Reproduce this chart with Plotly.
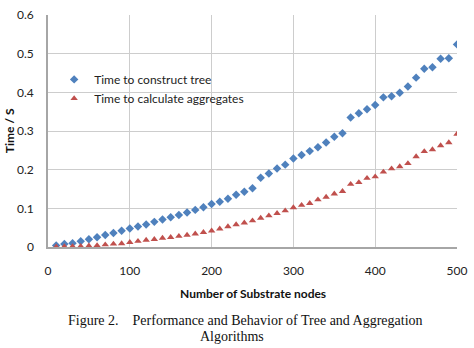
import plotly.graph_objects as go

nodes = list(range(10, 510, 10))
tree_time = [0.004, 0.008, 0.010, 0.015, 0.020, 0.025, 0.031, 0.036, 0.042, 0.048,
             0.053, 0.058, 0.065, 0.071, 0.077, 0.083, 0.089, 0.096, 0.103, 0.111,
             0.117, 0.125, 0.135, 0.143, 0.152, 0.179, 0.190, 0.203, 0.213, 0.229,
             0.238, 0.248, 0.258, 0.270, 0.285, 0.294, 0.335, 0.346, 0.356, 0.367,
             0.387, 0.390, 0.399, 0.415, 0.438, 0.461, 0.465, 0.487, 0.488, 0.524]
agg_time = [0.0005, 0.001, 0.0015, 0.002, 0.003, 0.004, 0.006, 0.008, 0.009, 0.012,
            0.015, 0.018, 0.020, 0.023, 0.025, 0.028, 0.031, 0.034, 0.038, 0.042,
            0.047, 0.053, 0.058, 0.0625, 0.068, 0.075, 0.081, 0.087, 0.094, 0.102,
            0.108, 0.113, 0.1225, 0.129, 0.1375, 0.144, 0.1625, 0.167, 0.178, 0.182,
            0.194, 0.2025, 0.208, 0.216, 0.234, 0.247, 0.252, 0.2625, 0.270, 0.292]

x_ticks = [0, 100, 200, 300, 400, 500]
y_ticks = [0, 0.1, 0.2, 0.3, 0.4, 0.5, 0.6]
y_tick_labels = ["0", "0.1", "0.2", "0.3", "0.4", "0.5", "0.6"]

font_main = "Lato, Open Sans, sans-serif"

fig = go.Figure()
fig.add_trace(go.Scatter(
    x=nodes, y=tree_time, mode="markers", name="Time to construct tree",
    marker=dict(symbol="diamond", size=6.5, color="#4F81BD"),
))
fig.add_trace(go.Scatter(
    x=nodes, y=agg_time, mode="markers", name="Time to calculate aggregates",
    marker=dict(symbol="triangle-up", size=6.5, color="#C0504D"),
))

grid = "#CDCDCD"
fig.update_layout(
    width=474, height=348,
    margin=dict(l=48, r=12, t=7, b=101),
    paper_bgcolor="white", plot_bgcolor="white",
    font=dict(family=font_main, size=12, color="#222222"),
    showlegend=True,
    legend=dict(x=0.015, y=0.785, xanchor="left", yanchor="top",
                bgcolor="rgba(0,0,0,0)", font=dict(size=12, color="#222222"),
                itemwidth=30, tracegroupgap=0),
    xaxis=dict(range=[0, 500], tickvals=x_ticks, showgrid=True, gridcolor=grid,
               gridwidth=1, showline=True, linecolor="#A6A6A6", linewidth=1.5,
               zeroline=False, ticks="", ticklabelstandoff=12,
               ticklabeloverflow="allow",
               tickfont=dict(size=12, color="#222222")),
    yaxis=dict(range=[0, 0.6], tickvals=y_ticks, ticktext=y_tick_labels,
               showgrid=True, gridcolor=grid, gridwidth=1, showline=True,
               linecolor="#A6A6A6", linewidth=1.5, zeroline=False, ticks="",
               ticklabelstandoff=10, ticklabeloverflow="allow",
               tickfont=dict(size=12, color="#222222")),
    annotations=[
        dict(text="<b>Number of Substrate nodes</b>", x=0.5, y=-0.2, xref="paper",
             yref="paper", showarrow=False, xanchor="center", yanchor="middle",
             font=dict(family=font_main, size=12, color="#111111")),
        dict(text="<b>Time / S</b>", x=-0.095, y=0.5, xref="paper", yref="paper",
             showarrow=False, textangle=-90, xanchor="center", yanchor="middle",
             font=dict(family=font_main, size=12, color="#111111")),
        dict(text="Figure 2.    Performance and Behavior of Tree and Aggregation",
             x=(248 - 48) / 414, y=(246.7 - 322.5) / 239.7, xref="paper", yref="paper",
             showarrow=False, xanchor="center", yanchor="middle",
             font=dict(family="Liberation Serif, Times New Roman, serif", size=14, color="#111111")),
        dict(text="Algorithms",
             x=(234 - 48) / 414, y=(246.7 - 339) / 239.7, xref="paper", yref="paper",
             showarrow=False, xanchor="center", yanchor="middle",
             font=dict(family="Liberation Serif, Times New Roman, serif", size=14, color="#111111")),
    ],
)

fig.write_html("out.html")
